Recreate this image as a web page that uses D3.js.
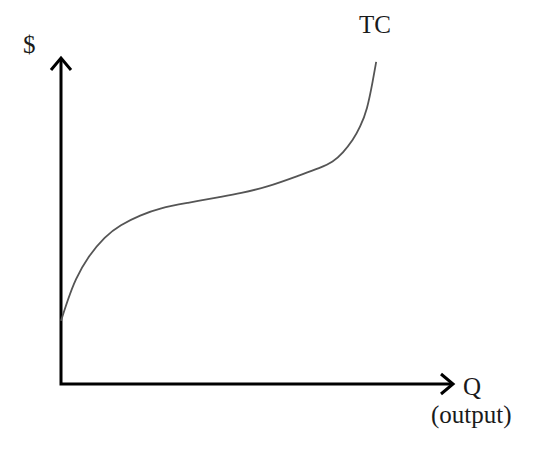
<!DOCTYPE html>
<html>
<head>
<meta charset="utf-8">
<script src="https://cdn.jsdelivr.net/npm/d3@7"></script>
<style>
  body { margin: 0; background: #fff; }
  text { font-family: "Liberation Serif", "DejaVu Serif", serif; fill: #1a1a1a; }
</style>
</head>
<body>
<div id="chart"></div>
<script>
// total cost curve (arbitrary units)
const quantity = [0, 1.8, 3.6, 6.9, 11.2, 15.1, 20.2, 25.3, 32.1, 40.6, 45.7, 52.6, 61, 66.1, 69.4, 71.9, 74.5, 76.3, 78.1, 79.6, 80.4];
const totalCost = [19.4, 26, 32, 39.1, 45.3, 48.8, 51.8, 54.0, 55.5, 57.4, 58.5, 60.4, 64.1, 66.3, 68.1, 70.9, 74.8, 78.8, 84.0, 93.3, 98.8];
const labels = { y: "$", curve: "TC", x: "Q", xSub: "(output)" };

const svgWidth = 536;
const svgHeight = 454;

const svg = d3.select("#chart")
    .append("svg")
    .attr("width", svgWidth)
    .attr("height", svgHeight);

// axis ends at the arrow tips
const x = d3.scaleLinear().domain([0, 100]).range([61, 453]);
const y = d3.scaleLinear().domain([0, 100]).range([384, 58]);

const data = quantity.map((q, i) => ({ q: q, tc: totalCost[i] }));

// axes
svg.append("path")
    .attr("d", `M${x(0)},${y(100)} L${x(0)},${y(0)} L${x(100)},${y(0)}`)
    .attr("fill", "none")
    .attr("stroke", "#000")
    .attr("stroke-width", 3);

// arrow heads
svg.append("path")
    .attr("d", `M${x(0) - 10},${y(100) + 12} L${x(0)},${y(100)} L${x(0) + 10},${y(100) + 12}`)
    .attr("fill", "none")
    .attr("stroke", "#000")
    .attr("stroke-width", 3);

svg.append("path")
    .attr("d", `M${x(100) - 12},${y(0) - 10} L${x(100)},${y(0)} L${x(100) - 12},${y(0) + 10}`)
    .attr("fill", "none")
    .attr("stroke", "#000")
    .attr("stroke-width", 3);

// TC curve, basis spline smooths out the reading noise
const line = d3.line()
    .x(d => x(d.q))
    .y(d => y(d.tc))
    .curve(d3.curveBasis);

svg.append("path")
    .datum(data)
    .attr("d", line)
    .attr("fill", "none")
    .attr("stroke", "#555")
    .attr("stroke-width", 1.8);

// labels
svg.append("text").text(labels.y).attr("x", 23).attr("y", 53).attr("font-size", 25);
svg.append("text").text(labels.curve).attr("x", 359).attr("y", 33).attr("font-size", 25);
svg.append("text").text(labels.x).attr("x", 463).attr("y", 395).attr("font-size", 25);
svg.append("text").text(labels.xSub).attr("x", 431).attr("y", 423).attr("font-size", 25);
</script>
</body>
</html>
